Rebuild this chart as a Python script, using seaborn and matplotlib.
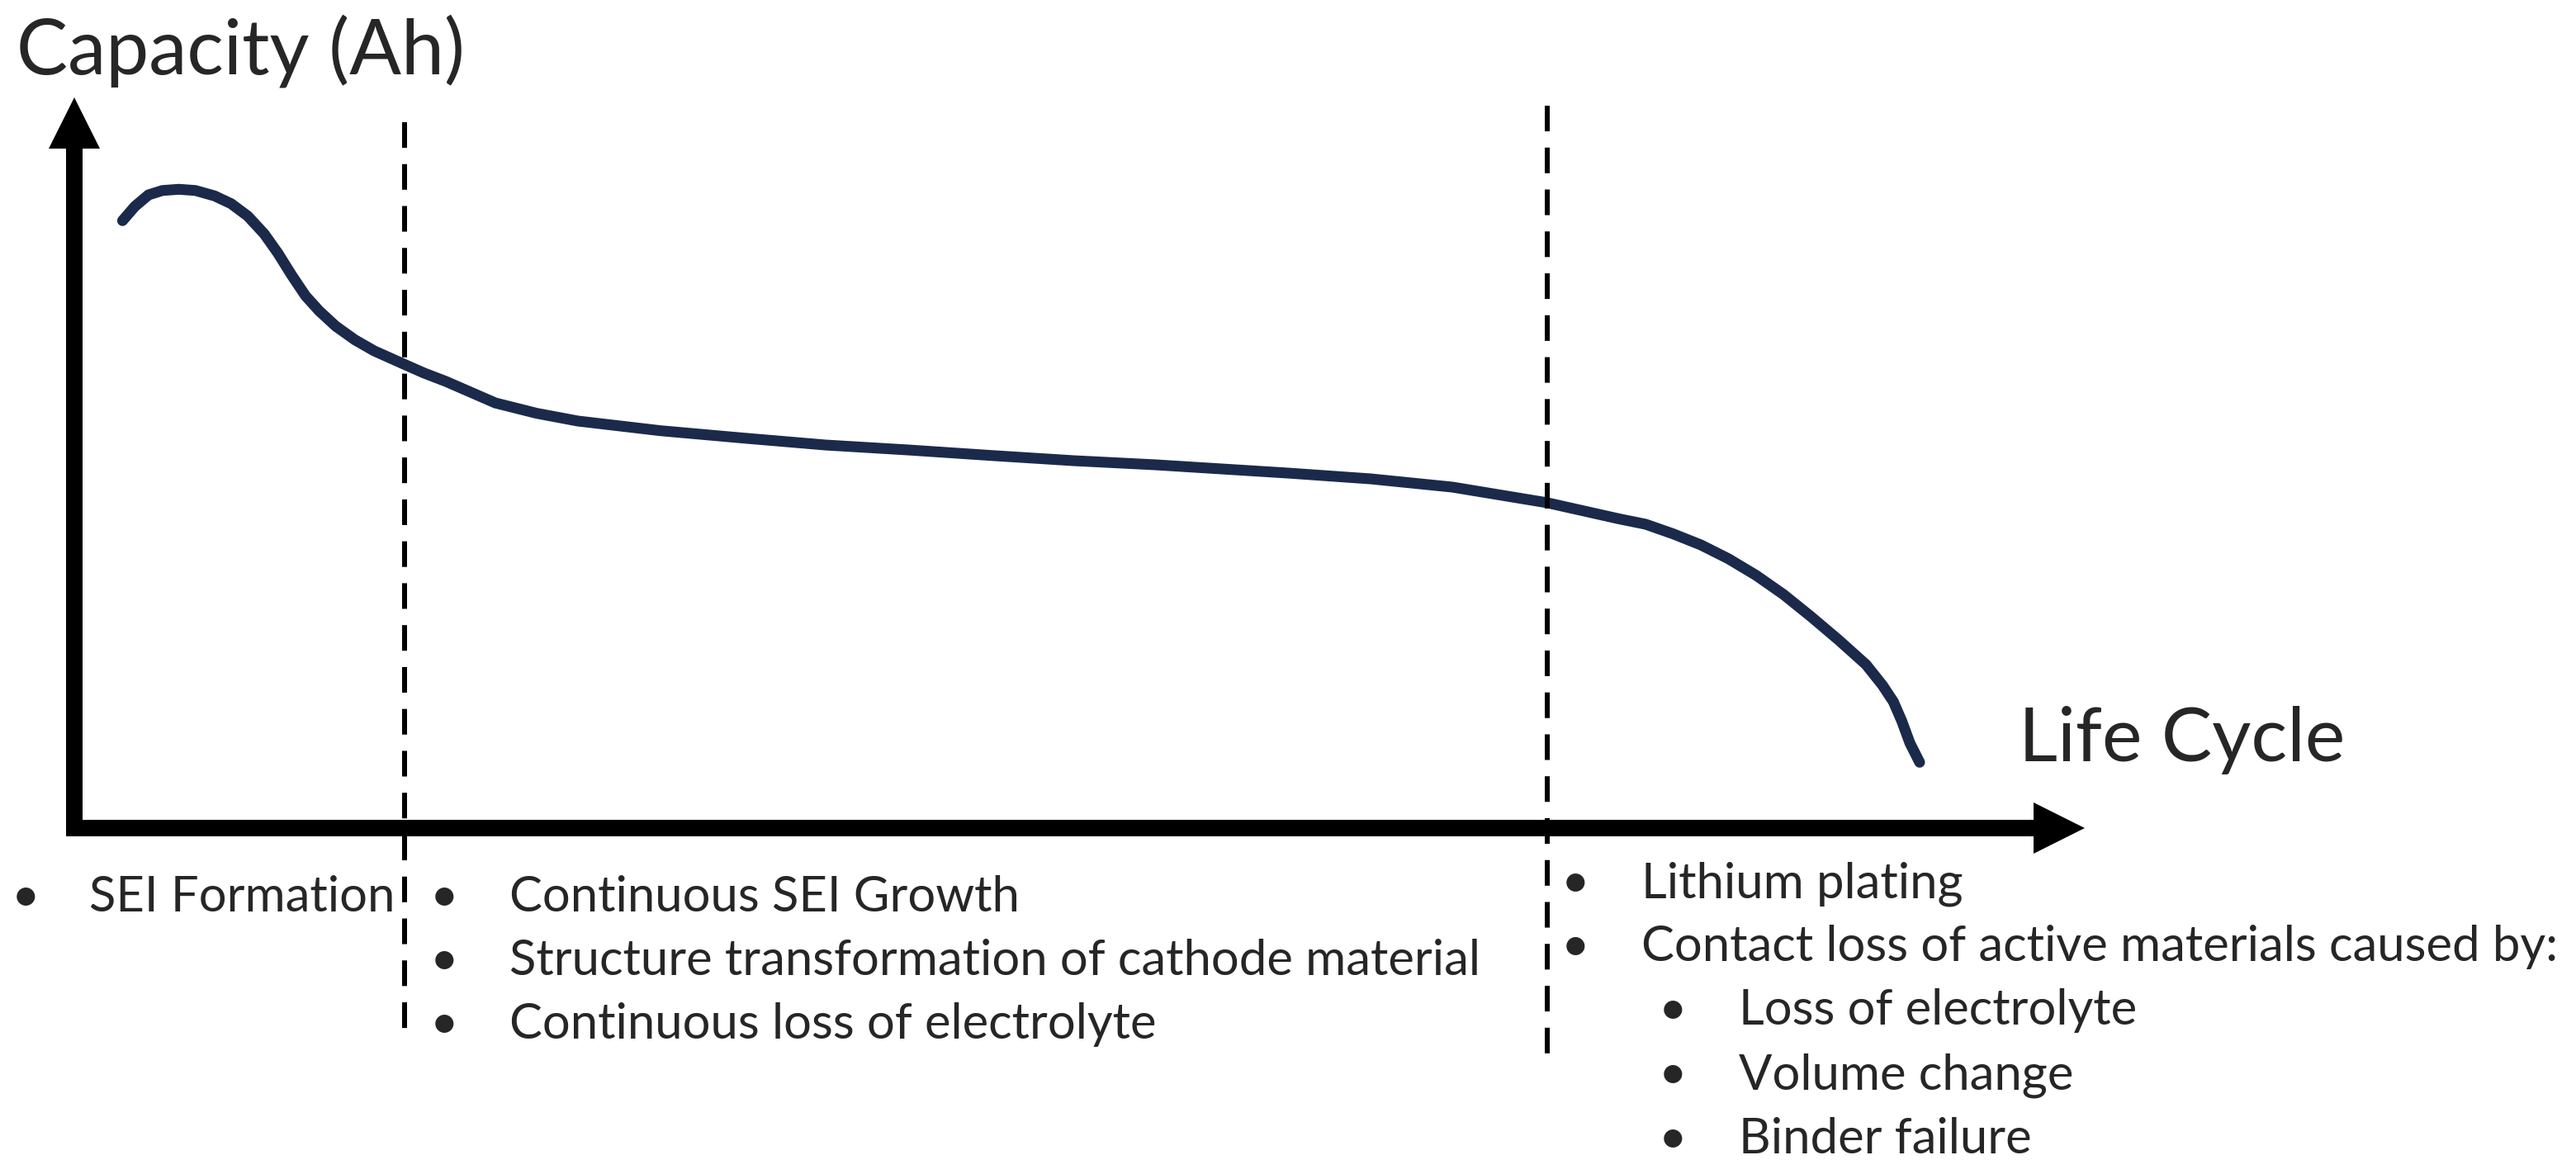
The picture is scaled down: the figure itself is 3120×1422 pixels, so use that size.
import seaborn as sns
import matplotlib.pyplot as plt
import pandas as pd

# capacity fade curve (both axes in % of axis length)
life_cycle = [2.43, 3.05, 3.74, 4.44, 5.27, 6.10, 7.07, 7.90, 8.74, 9.57,
              10.26, 10.95, 11.65, 12.34, 13.17, 14.14, 15.11, 16.50, 17.61, 18.72,
              21.21, 23.29, 25.37, 29.53, 33.69, 37.85, 42.01, 46.17, 50.33, 54.49,
              61.15, 65.31, 69.43, 74.21, 77.79, 79.17, 80.56, 81.95, 83.33, 84.72,
              86.11, 87.49, 88.88, 90.27, 91.10, 91.65, 92.07, 92.48, 92.97]
capacity = [86.15, 88.17, 89.81, 90.43, 90.60, 90.43, 89.66, 88.56, 86.80, 84.27,
            81.53, 78.42, 75.49, 73.34, 71.19, 69.24, 67.68, 65.93, 64.55, 63.35,
            60.30, 58.83, 57.73, 56.36, 55.32, 54.33, 53.63, 52.85, 52.11, 51.52,
            50.35, 49.53, 48.36, 46.14, 43.88, 43.09, 41.72, 40.16, 38.21, 35.87,
            33.14, 30.01, 26.70, 23.19, 20.26, 17.92, 15.19, 12.06, 9.33]

# dashed phase boundaries (x position, top and bottom end in axis units)
phase_bounds = [16.64, 74.21]
phase_top = [100.1, 102.5]
phase_bottom = [-28.9, -32.6]

y_label = "Capacity (Ah)"
x_label = "Life Cycle"
phase1_notes = ["SEI Formation"]
phase2_notes = ["Continuous SEI Growth",
                "Structure transformation of cathode material",
                "Continuous loss of electrolyte"]
phase3_notes = ["Lithium plating",
                "Contact loss of active materials caused by:"]
phase3_sub_notes = ["Loss of electrolyte", "Volume change", "Binder failure"]

sns.set_style("white")
plt.rcParams['font.family'] = ['Lato', 'DejaVu Sans']

W, H = 3120, 1422
fig = plt.figure(figsize=(W / 100, H / 100), dpi=100)


def fx(x):
    return x / W


def fy(y):
    return 1 - y / H


# axes box in pixels: left 90, right 2494, top 149, bottom 1003
ax = fig.add_axes([fx(90), fy(1003), (2494 - 90) / W, (1003 - 149) / H])
ax.set_xlim(0, 100)
ax.set_ylim(0, 100)
ax.set_xticks([])
ax.set_yticks([])
for side in ['top', 'right']:
    ax.spines[side].set_visible(False)
for side in ['left', 'bottom']:
    ax.spines[side].set_linewidth(14.4)
    ax.spines[side].set_color('black')
    ax.spines[side].set_capstyle('projecting')

# arrow heads
ax.plot(1, 0, '>', color='black', ms=44, mew=0, transform=ax.transAxes, clip_on=False)
ax.plot(0, 1, '^', color='black', ms=44, mew=0, transform=ax.transAxes, clip_on=False)

df = pd.DataFrame({'life': life_cycle, 'cap': capacity})
sns.lineplot(data=df, x='life', y='cap', sort=False, color='#1b2a4a', lw=9.4,
             solid_capstyle='round', solid_joinstyle='round', ax=ax, clip_on=False)

for b, t, lo in zip(phase_bounds, phase_top, phase_bottom):
    ax.plot([b, b], [t, lo], color='black', lw=4.3, linestyle=(0, (5.2, 3.3)),
            clip_on=False)

ax.set_xlabel('')
ax.set_ylabel('')

fig.text(fx(20), fy(89), y_label, fontsize=67, va='baseline', ha='left')
fig.text(fx(2445), fy(922), x_label, fontsize=66, va='baseline', ha='left')


def bullets(notes, bx, tx, y0, step):
    for i, note in enumerate(notes):
        y = y0 + i * step
        fig.text(fx(bx), fy(y), '\u2022', fontsize=43, va='baseline', ha='center')
        fig.text(fx(tx), fy(y), note, fontsize=43, va='baseline', ha='left')


bullets(phase1_notes, 31, 108, 1104, 77)
bullets(phase2_notes, 538, 617, 1104, 77)
bullets(phase3_notes, 1908, 1988, 1087, 77)
bullets(phase3_sub_notes, 2026, 2106, 1241, 78)

fig.savefig('out.png', dpi=100, facecolor='white')
